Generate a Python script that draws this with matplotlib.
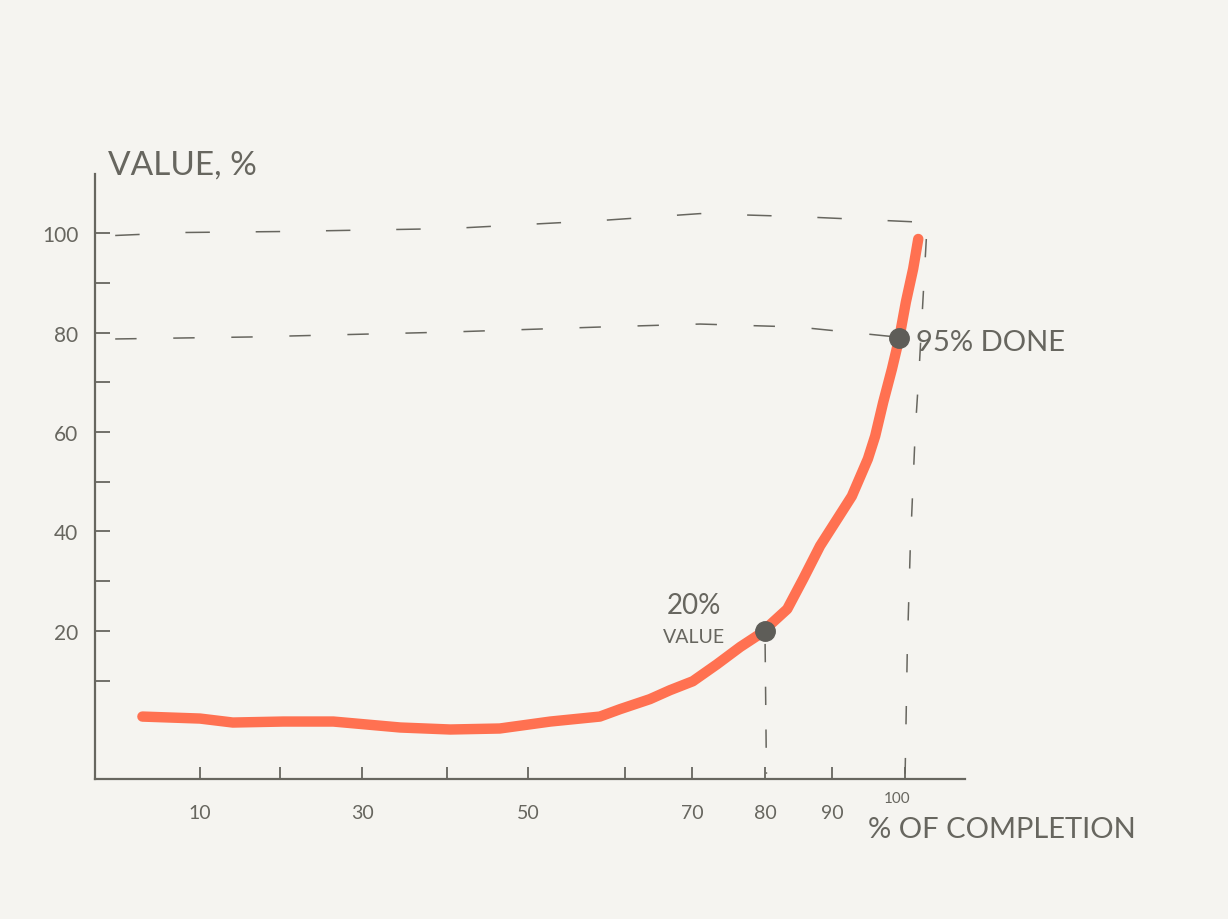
import matplotlib
matplotlib.use("Agg")
import matplotlib.pyplot as plt
import matplotlib.transforms as mtransforms
import numpy as np

# curve: % of completion vs value %
completion = [2.8, 10.0, 14.1, 20.4, 26.5, 34.5, 40.4, 46.5, 52.3, 57.4, 59.5,
              63.7, 66.7, 70.1, 73.4, 76.6, 79.3, 83.3, 85.7, 88.2, 90.7, 92.7,
              94.9, 95.9, 97.0, 98.2, 99.2, 100.1, 101.1, 101.8]
value = [2.8, 2.4, 1.6, 1.8, 1.8, 0.6, 0.2, 0.4, 1.8, 2.8, 4.3,
         6.3, 8.1, 9.9, 13.3, 16.8, 19.4, 24.4, 30.5, 37.1, 42.5, 47.1,
         54.6, 59.2, 66.0, 72.7, 78.9, 86.1, 92.8, 98.8]

# highlighted points
point_x = [80, 99.2]
point_y = [20, 78.9]

# hand drawn guide lines (dashed)
guide100_x = [-0.6, 8.0, 20.4, 40.4, 57.4, 71.1, 84.9, 103.4]
guide100_y = [99.5, 100.1, 100.3, 100.9, 102.5, 103.9, 103.3, 102.1]
guide80_x = [-0.6, 16.3, 40.4, 57.4, 71.1, 84.9, 98.8]
guide80_y = [78.7, 79.1, 80.1, 81.1, 81.7, 81.1, 79.1]
vguide80_x = [80.0, 80.2]
vguide80_y = [17.4, -8.7]
vguide100_x = [102.9, 101.9, 101.4, 100.7, 100.3, 100.0]
vguide100_y = [98.8, 72.1, 60.6, 36.5, 16.4, -8.7]

# axis ticks
x_ticks = [10, 20, 30, 40, 50, 60, 70, 80, 90, 100]
x_labels = {10: "10", 30: "30", 50: "50", 70: "70", 80: "80", 90: "90", 100: "100"}
y_ticks = [10, 20, 30, 40, 50, 60, 70, 80, 90, 100]
y_labels = {20: "20", 40: "40", 60: "60", 80: "80", 100: "100"}

# the hand drawn x axis is not evenly spaced, so warp it
knot_vals = [-20, 0, 10, 20, 30, 40, 50, 60, 70, 80, 90, 100, 120]
knot_pos = [-40, 120, 200, 280, 362, 447, 528, 625, 692, 765, 832, 905, 1051]


def forward(v):
    return np.interp(v, knot_vals, knot_pos)


def inverse(p):
    return np.interp(p, knot_pos, knot_vals)


BG = "#f5f4f0"
INK = "#67665f"
CURVE = "#ff7151"
DOT = "#5e5d58"

plt.rcParams["font.family"] = ["Lato", "DejaVu Sans"]

fig = plt.figure(figsize=(12.28, 9.2), dpi=100, facecolor=BG)
ax = fig.add_axes([95 / 1228, 140 / 920, 870 / 1228, 605 / 920])
ax.set_facecolor(BG)
ax.set_xscale("function", functions=(forward, inverse))
ax.set_xlim(-3.125, 108.2)
ax.set_ylim(-9.75, 111.86)

for side in ("top", "right"):
    ax.spines[side].set_visible(False)
for side in ("left", "bottom"):
    ax.spines[side].set_color(INK)
    ax.spines[side].set_linewidth(1.6)

ax.set_xticks(x_ticks)
ax.set_xticklabels([x_labels.get(t, "") for t in x_ticks])
ax.set_yticks(y_ticks)
ax.set_yticklabels([y_labels.get(t, "") for t in y_ticks])
ax.tick_params(axis="x", direction="in", length=9, width=1.3, color=INK,
               labelcolor=INK, labelsize=14, pad=18)
ax.tick_params(axis="y", direction="in", length=11, width=1.3, color=INK,
               labelcolor=INK, labelsize=15, pad=12)

# small "100" sits higher, squeezed next to the axis title
lab100 = ax.get_xticklabels()[-1]
lab100.set_fontsize(11)
lab100.set_transform(lab100.get_transform() +
                     mtransforms.ScaledTranslation(-6 / 72, 9 / 72, fig.dpi_scale_trans))

dash_kw = dict(color=INK, lw=1.1, zorder=1)
ax.plot(guide100_x, guide100_y, dashes=(16, 30), **dash_kw)
ax.plot(guide80_x, guide80_y, dashes=(14, 24), **dash_kw)
ax.plot(vguide80_x, vguide80_y, dashes=(12, 16), **dash_kw)
ax.plot(vguide100_x, vguide100_y, dashes=(12, 22), **dash_kw)

ax.plot(completion, value, color=CURVE, lw=7.5, solid_capstyle="round",
        solid_joinstyle="round", zorder=3)
ax.plot(point_x, point_y, "o", color=DOT, markersize=14, zorder=4)

ax.annotate("20%", xy=(point_x[0], point_y[0]), xytext=(-51, 19),
            textcoords="offset points", ha="center", va="center",
            fontsize=20, color=INK)
ax.annotate("VALUE", xy=(point_x[0], point_y[0]), xytext=(-51, -4),
            textcoords="offset points", ha="center", va="center",
            fontsize=14, color=INK)
ax.annotate("95% DONE", xy=(point_x[1], point_y[1]), xytext=(12, -3),
            textcoords="offset points", ha="left", va="center",
            fontsize=21, color=INK)

fig.text(108 / 1228, 1 - 166 / 920, "VALUE, %", ha="left", va="center",
         fontsize=24, color=INK)
fig.text(868 / 1228, 1 - 830 / 920, "% OF COMPLETION", ha="left", va="center",
         fontsize=21, color=INK)

fig.savefig("out.png", dpi=100, facecolor=BG)
